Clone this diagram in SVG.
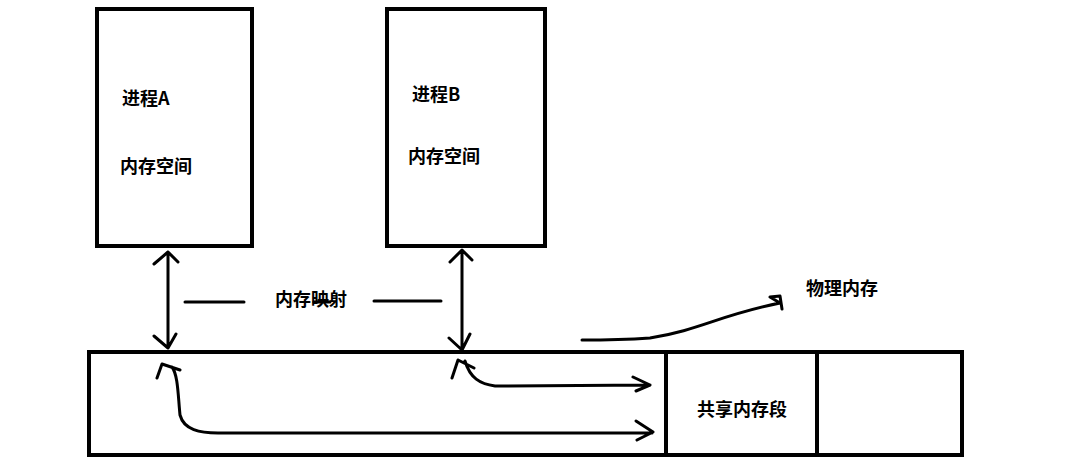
<svg xmlns="http://www.w3.org/2000/svg" width="1065" height="470" viewBox="0 0 1065 470">
<style>
.box{fill:#fff;stroke:#000;stroke-width:4}
.ln{fill:none;stroke:#000;stroke-width:3;stroke-linecap:round;stroke-linejoin:round}
text{font-family:"Noto Sans CJK SC","Liberation Sans",sans-serif;font-size:18px;font-weight:bold;fill:#000}
</style>
<rect width="1065" height="470" fill="#fff"/>
<g id="procA"><rect class="box" x="97" y="9" width="155" height="237"/><text x="122" y="105">进程A</text><text x="120" y="173">内存空间</text></g>
<g id="procB"><rect class="box" x="387" y="9" width="158" height="237"/><text x="412" y="101">进程B</text><text x="408" y="163">内存空间</text></g>
<g id="mem"><rect class="box" x="89" y="352" width="873" height="103"/><line class="box" x1="666" y1="352" x2="666" y2="455"/><line class="box" x1="817" y1="352" x2="817" y2="455"/><text x="697" y="416">共享内存段</text></g>
<g id="label1"><text x="275" y="306">内存映射</text></g>
<g id="label2"><text x="806" y="295">物理内存</text></g>
<g id="connectors">
<path class="ln" d="M168 252V348M154 264L168 252L178 262M154 336L168 348L176 334"/>
<path class="ln" d="M462 252V348M450 262L462 250L472 260M449 338L462 350L470 334"/>
<path class="ln" d="M185 302H244M314 302H330M374 301H441"/>
<path class="ln" d="M172 367C178 375 178 395 180 415C184 430 200 433 218 433H652M157 378L162 364L180 370M636 421L653 432L637 440"/>
<path class="ln" d="M465 361C470 378 480 384 495 386L650 385M452 378L458 360L474 368M633 377L650 385L636 391"/>
<path class="ln" d="M582 340C610 340 620 340 650 338C700 330 720 315 780 303L770 297L780 296L782 309"/>
</g>
</svg>
